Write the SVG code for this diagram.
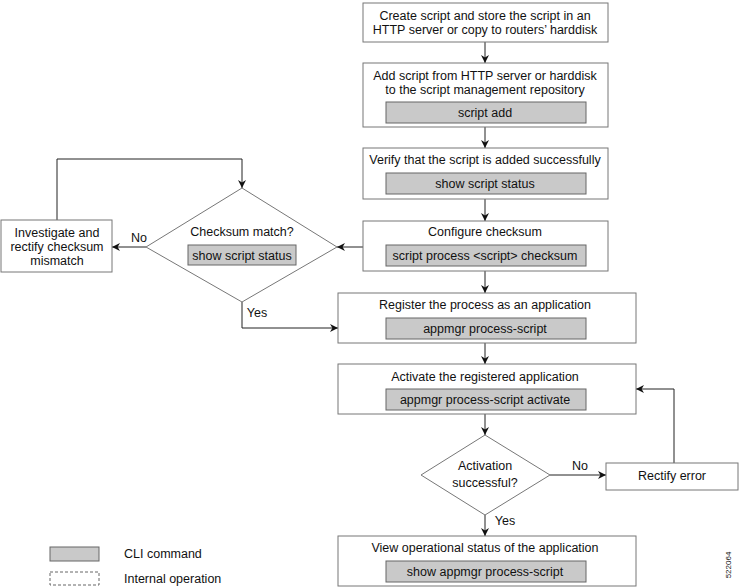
<svg xmlns="http://www.w3.org/2000/svg" width="740" height="588" viewBox="0 0 740 588">
<style>
.box{fill:#fff;stroke:#777;stroke-width:1}
.cli{fill:#c9c9c9;stroke:#666;stroke-width:1}
.dash{fill:#fff;stroke:#666;stroke-width:1;stroke-dasharray:3,2}
text{font-family:"Liberation Sans",Arial,sans-serif;font-size:12.5px;fill:#111;text-anchor:middle;dominant-baseline:central}
.l{text-anchor:start}
.c{fill:none;stroke:#222;stroke-width:1}
</style>
<defs>
<marker id="ah" viewBox="0 0 10 10" refX="10" refY="5" markerWidth="8" markerHeight="8" markerUnits="userSpaceOnUse" orient="auto">
<path d="M0,0 L10,5 L0,10 L3,5 z" fill="#111"/>
</marker>
</defs>
<rect width="740" height="588" fill="#fff"/>
<g id="connectors">
<path class="c" d="M485,42 V63" marker-end="url(#ah)"/>
<path class="c" d="M485,127 V148" marker-end="url(#ah)"/>
<path class="c" d="M485,199 V221" marker-end="url(#ah)"/>
<path class="c" d="M363,247 H337" marker-end="url(#ah)"/>
<path class="c" d="M146,247 H112" marker-end="url(#ah)"/>
<path class="c" d="M57,220 V159 H242 V188" marker-end="url(#ah)"/>
<path class="c" d="M242,302 V328 H338" marker-end="url(#ah)"/>
<path class="c" d="M485,271 V293" marker-end="url(#ah)"/>
<path class="c" d="M485,343 V364" marker-end="url(#ah)"/>
<path class="c" d="M485,414 V435" marker-end="url(#ah)"/>
<path class="c" d="M550,475 H606" marker-end="url(#ah)"/>
<path class="c" d="M674,463 V389 H636" marker-end="url(#ah)"/>
<path class="c" d="M485,515 V536" marker-end="url(#ah)"/>
<text x="139" y="238">No</text>
<text x="257" y="313">Yes</text>
<text x="580" y="466">No</text>
<text x="505" y="521">Yes</text>
</g>
<g id="n1">
<rect class="box" x="363" y="3" width="245" height="39"/>
<text x="485" y="16">Create script and store the script in an</text>
<text x="485" y="30">HTTP server or copy to routers’ harddisk</text>
</g>
<g id="n2">
<rect class="box" x="363" y="63" width="245" height="64"/>
<text x="485" y="76">Add script from HTTP server or harddisk</text>
<text x="485" y="90">to the script management repository</text>
<rect class="cli" x="386" y="102" width="200" height="21"/>
<text x="485" y="113">script add</text>
</g>
<g id="n3">
<rect class="box" x="363" y="148" width="245" height="51"/>
<text x="485" y="160">Verify that the script is added successfully</text>
<rect class="cli" x="386" y="173" width="200" height="21"/>
<text x="485" y="184">show script status</text>
</g>
<g id="n4">
<rect class="box" x="363" y="221" width="245" height="50"/>
<text x="485" y="232">Configure checksum</text>
<rect class="cli" x="386" y="245" width="200" height="21"/>
<text x="485" y="256">script process &lt;script&gt; checksum</text>
</g>
<g id="d1">
<polygon class="box" points="242,188 337,247 242,302 146,247"/>
<text x="242" y="232">Checksum match?</text>
<rect class="cli" x="188" y="245" width="108" height="20"/>
<text x="242" y="256">show script status</text>
</g>
<g id="inv">
<rect class="box" x="1" y="220" width="111" height="52"/>
<text x="57" y="233">Investigate and</text>
<text x="57" y="247">rectify checksum</text>
<text x="57" y="261">mismatch</text>
</g>
<g id="n5">
<rect class="box" x="338" y="293" width="298" height="50"/>
<text x="485" y="305">Register the process as an application</text>
<rect class="cli" x="386" y="318" width="200" height="21"/>
<text x="485" y="329">appmgr process-script</text>
</g>
<g id="n6">
<rect class="box" x="338" y="364" width="298" height="50"/>
<text x="485" y="377">Activate the registered application</text>
<rect class="cli" x="386" y="389" width="200" height="21"/>
<text x="485" y="400">appmgr process-script activate</text>
</g>
<g id="d2">
<polygon class="box" points="485,435 550,475 485,515 421,475"/>
<text x="485" y="466">Activation</text>
<text x="485" y="483">successful?</text>
</g>
<g id="rect">
<rect class="box" x="606" y="463" width="132" height="27"/>
<text x="672" y="476">Rectify error</text>
</g>
<g id="n7">
<rect class="box" x="338" y="536" width="298" height="50"/>
<text x="485" y="548">View operational status of the application</text>
<rect class="cli" x="386" y="561" width="200" height="21"/>
<text x="485" y="572">show appmgr process-script</text>
</g>
<g id="legend">
<rect class="cli" x="50" y="547" width="49" height="14"/>
<text class="l" x="124" y="554">CLI command</text>
<rect class="dash" x="50" y="572" width="49" height="13"/>
<text class="l" x="124" y="579">Internal operation</text>
</g>
<text x="728" y="565" transform="rotate(-90 728 565)" style="font-size:8px">522064</text>
</svg>
